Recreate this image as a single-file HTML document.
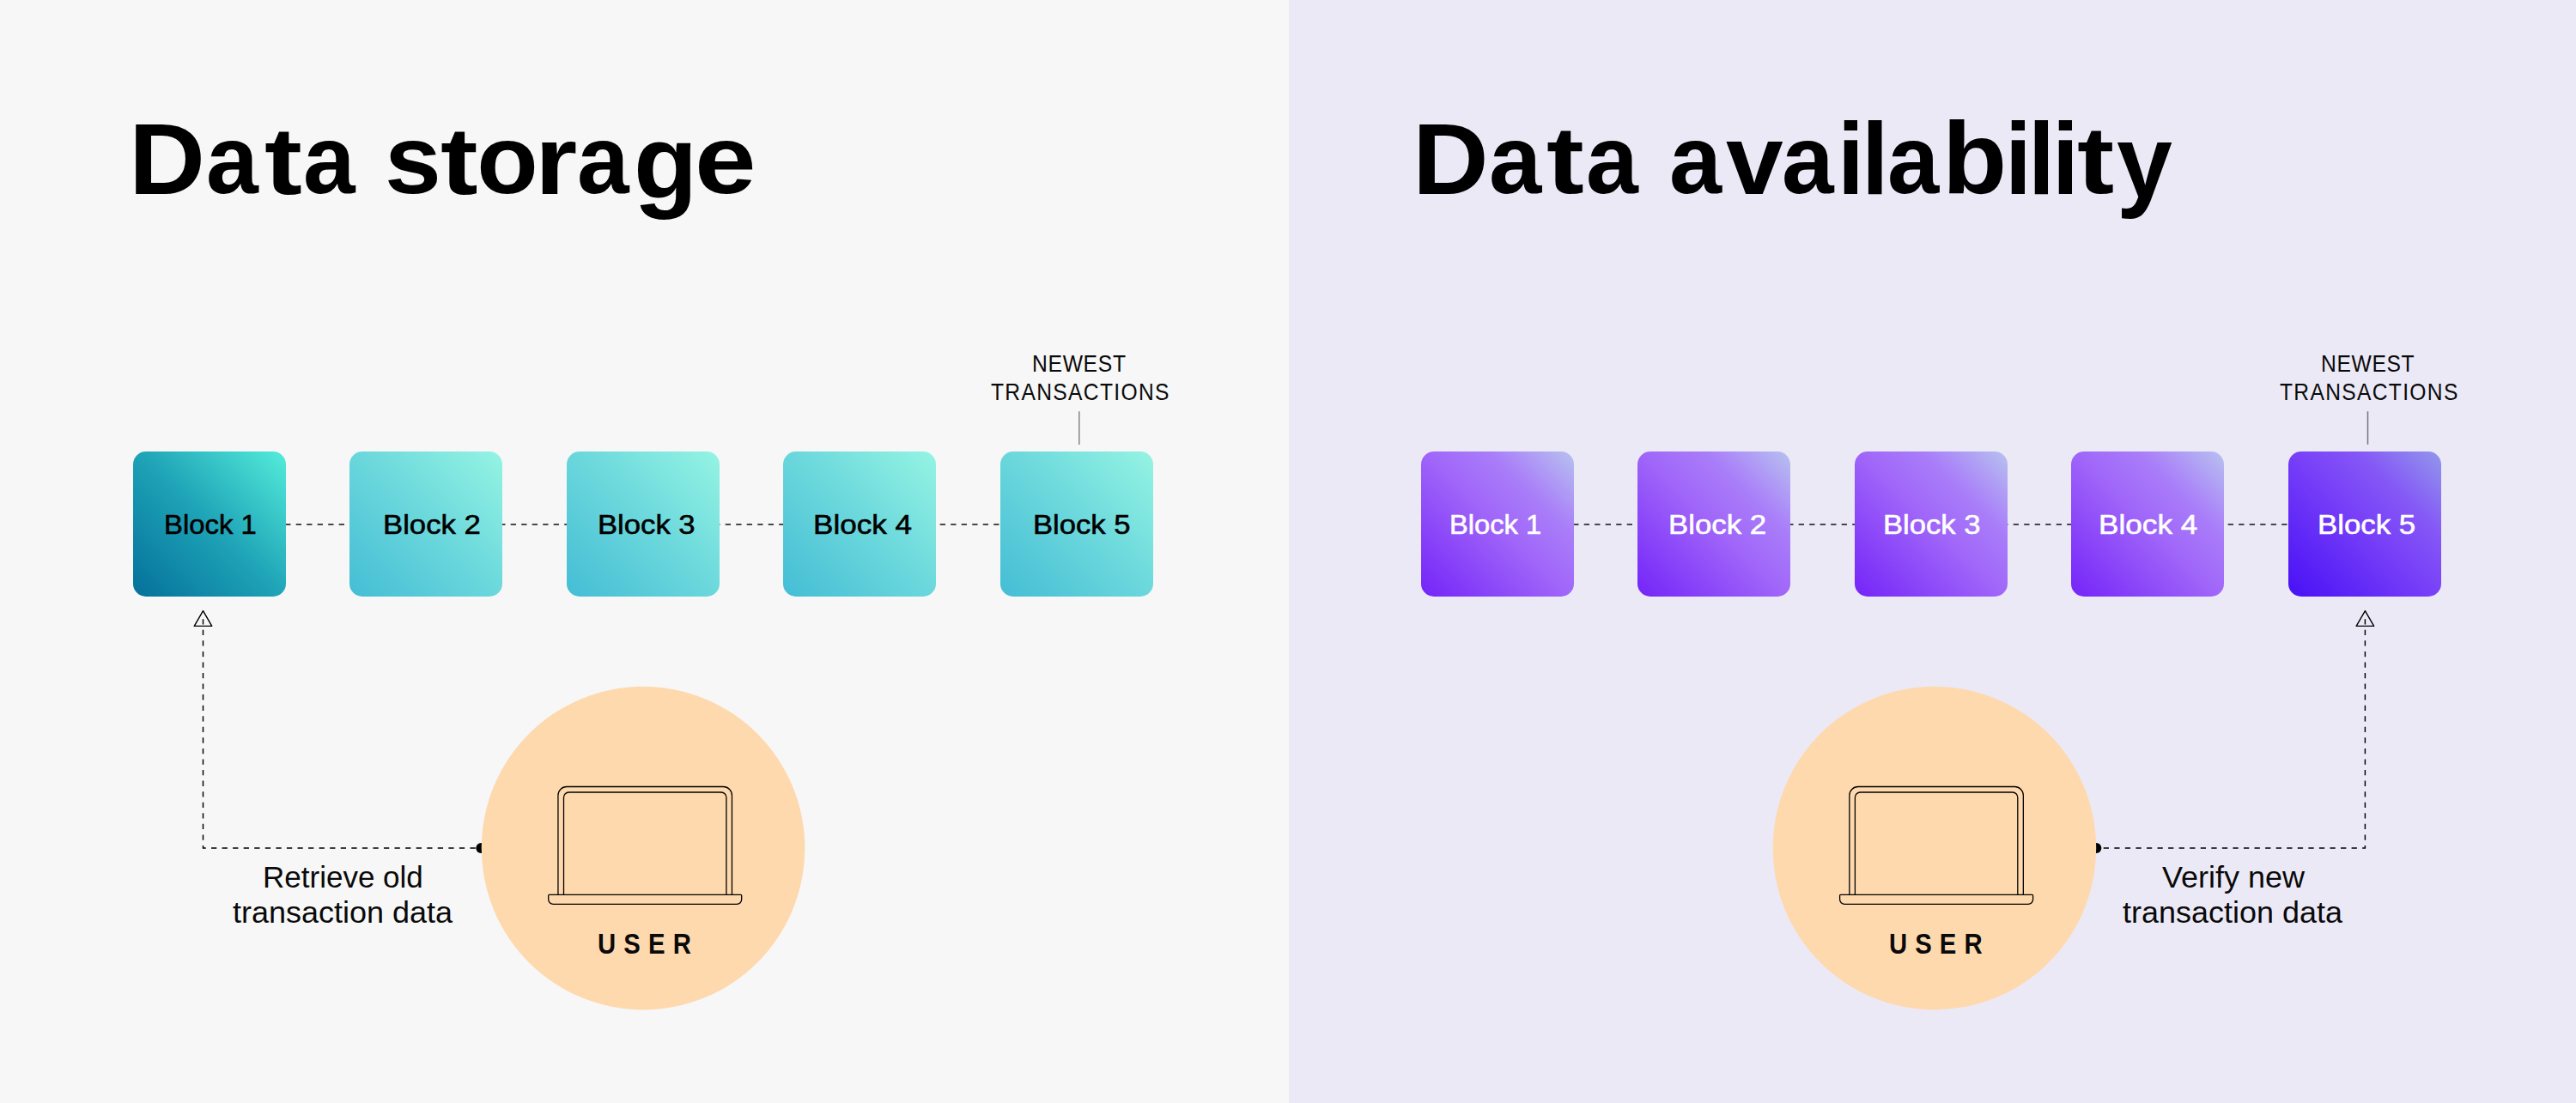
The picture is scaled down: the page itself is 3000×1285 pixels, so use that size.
<!DOCTYPE html>
<html><head><meta charset="utf-8"><style>
html,body{margin:0;padding:0;width:3000px;height:1285px;overflow:hidden;background:#f7f7f7}
.p{position:absolute;top:0;height:1285px}
.b{position:absolute;top:525.5px;width:178.0px;height:169.5px;border-radius:15px}
.s{position:absolute;left:0;top:0}
.t{position:absolute;font-family:"Liberation Sans",sans-serif;line-height:1;white-space:nowrap;transform-origin:0 0}
.L{position:absolute;font-family:"Liberation Sans",sans-serif;font-weight:700;color:#000;line-height:1;white-space:nowrap;transform-origin:0 0}
</style></head><body>
<div class="p" style="left:0;width:1501px;background:#f7f7f7"></div>
<div class="p" style="left:1501px;width:1499px;background:#ece9f7"></div>
<svg class="s" width="3000" height="1285" viewBox="0 0 3000 1285"><line x1="157.20" y1="611" x2="1342.00" y2="611" stroke="#111" stroke-width="1.55" stroke-dasharray="6.3 6.2"/>
<line x1="1657.20" y1="611" x2="2842.00" y2="611" stroke="#111" stroke-width="1.55" stroke-dasharray="6.3 6.2"/>
<line x1="1256.8" y1="479.3" x2="1256.8" y2="517.9" stroke="#86868b" stroke-width="1.5"/>
<line x1="2757.5" y1="479.3" x2="2757.5" y2="517.9" stroke="#747479" stroke-width="1.5"/>
<path d="M236.5 721.2 V988 H560.2" fill="none" stroke="#000" stroke-width="1.45" stroke-dasharray="6.28 6.28"/>
<path d="M236.5 711.7 L246.75 729.4 L226.25 729.4 Z" fill="none" stroke="#000" stroke-width="1.4" stroke-linejoin="round"/>
<circle cx="560.2" cy="988" r="5.9" fill="#000"/>
<path d="M2754.4 721.2 V988 H2441.4" fill="none" stroke="#000" stroke-width="1.45" stroke-dasharray="6.28 6.28"/>
<path d="M2754.4 711.7 L2764.65 729.4 L2744.15 729.4 Z" fill="none" stroke="#000" stroke-width="1.4" stroke-linejoin="round"/>
<circle cx="2441.4" cy="988" r="5.9" fill="#000"/>
<circle cx="749.05" cy="988.1" r="188.3" fill="#fed9ae"/>
<circle cx="2252.9" cy="988.1" r="188.3" fill="#fed9ae"/>
<g fill="none" stroke="#000" stroke-width="1.3"><path d="M649.95 1042.3 V926.5 A10 10 0 0 1 659.95 916.5 H842.45 A10 10 0 0 1 852.45 926.5 V1042.3"/><path d="M656.50 1042.3 V929.0 A6 6 0 0 1 662.50 923.0 H839.90 A6 6 0 0 1 845.90 929.0 V1042.3"/><path d="M639.70 1042.3 H862.70 Q863.70 1042.3 863.70 1043.3 V1047.8 A5.5 5.5 0 0 1 858.20 1053.3 H644.20 A5.5 5.5 0 0 1 638.70 1047.8 V1043.3 Q638.70 1042.3 639.70 1042.3 Z"/></g>
<g fill="none" stroke="#000" stroke-width="1.3"><path d="M2153.85 1042.3 V926.5 A10 10 0 0 1 2163.85 916.5 H2346.35 A10 10 0 0 1 2356.35 926.5 V1042.3"/><path d="M2160.40 1042.3 V929.0 A6 6 0 0 1 2166.40 923.0 H2343.80 A6 6 0 0 1 2349.80 929.0 V1042.3"/><path d="M2143.60 1042.3 H2366.60 Q2367.60 1042.3 2367.60 1043.3 V1047.8 A5.5 5.5 0 0 1 2362.10 1053.3 H2148.10 A5.5 5.5 0 0 1 2142.60 1047.8 V1043.3 Q2142.60 1042.3 2143.60 1042.3 Z"/></g></svg>
<div class="b" style="left:155.0px;background:linear-gradient(45deg,#05709a 0%,#1ea3b7 50%,#54ecda 100%)"></div>
<div class="b" style="left:407.4px;background:linear-gradient(45deg,#44bdd5 0%,#6ad7dc 50%,#95f4e3 100%)"></div>
<div class="b" style="left:659.8px;background:linear-gradient(45deg,#44bdd5 0%,#6ad7dc 50%,#95f4e3 100%)"></div>
<div class="b" style="left:912.2px;background:linear-gradient(45deg,#44bdd5 0%,#6ad7dc 50%,#95f4e3 100%)"></div>
<div class="b" style="left:1164.6px;background:linear-gradient(45deg,#44bdd5 0%,#6ad7dc 50%,#95f4e3 100%)"></div>
<div class="b" style="left:1655.0px;background:linear-gradient(45deg,#7424f8 0%,#a066f9 50%,#a97ef9 72%,#b7c2f0 100%)"></div>
<div class="b" style="left:1907.4px;background:linear-gradient(45deg,#7424f8 0%,#a066f9 50%,#a97ef9 72%,#b7c2f0 100%)"></div>
<div class="b" style="left:2159.8px;background:linear-gradient(45deg,#7424f8 0%,#a066f9 50%,#a97ef9 72%,#b7c2f0 100%)"></div>
<div class="b" style="left:2412.2px;background:linear-gradient(45deg,#7424f8 0%,#a066f9 50%,#a97ef9 72%,#b7c2f0 100%)"></div>
<div class="b" style="left:2664.6px;background:linear-gradient(45deg,#4810f5 0%,#7840f8 50%,#8558f6 72%,#9298ec 100%)"></div>
<div class="t" style="left:191.04px;top:595.96px;font-size:31.11px;font-weight:400;color:#000;transform:scaleX(1.0570);-webkit-text-stroke:0.55px currentColor;">Block 1</div>
<div class="t" style="left:446.28px;top:595.96px;font-size:31.11px;font-weight:400;color:#000;transform:scaleX(1.1160);-webkit-text-stroke:0.55px currentColor;">Block 2</div>
<div class="t" style="left:696.29px;top:595.96px;font-size:31.11px;font-weight:400;color:#000;transform:scaleX(1.1140);-webkit-text-stroke:0.55px currentColor;">Block 3</div>
<div class="t" style="left:947.37px;top:595.96px;font-size:31.11px;font-weight:400;color:#000;transform:scaleX(1.1287);-webkit-text-stroke:0.55px currentColor;">Block 4</div>
<div class="t" style="left:1202.79px;top:595.96px;font-size:31.11px;font-weight:400;color:#000;transform:scaleX(1.1129);-webkit-text-stroke:0.55px currentColor;">Block 5</div>
<div class="t" style="left:1687.65px;top:595.96px;font-size:31.11px;font-weight:400;color:#fff;transform:scaleX(1.0510);-webkit-text-stroke:0.55px currentColor;">Block 1</div>
<div class="t" style="left:1942.58px;top:595.96px;font-size:31.11px;font-weight:400;color:#fff;transform:scaleX(1.1180);-webkit-text-stroke:0.55px currentColor;">Block 2</div>
<div class="t" style="left:2192.79px;top:595.96px;font-size:31.11px;font-weight:400;color:#fff;transform:scaleX(1.1120);-webkit-text-stroke:0.55px currentColor;">Block 3</div>
<div class="t" style="left:2443.67px;top:595.96px;font-size:31.11px;font-weight:400;color:#fff;transform:scaleX(1.1307);-webkit-text-stroke:0.55px currentColor;">Block 4</div>
<div class="t" style="left:2698.88px;top:595.96px;font-size:31.11px;font-weight:400;color:#fff;transform:scaleX(1.1198);-webkit-text-stroke:0.55px currentColor;">Block 5</div>
<div class="t" style="left:1202.22px;top:409.95px;font-size:28.05px;font-weight:400;color:#0a0a0a;letter-spacing:0.768px;transform:scaleX(0.88);">NEWEST</div>
<div class="t" style="left:1153.80px;top:442.66px;font-size:27.33px;font-weight:400;color:#0a0a0a;letter-spacing:1.495px;transform:scaleX(0.9);">TRANSACTIONS</div>
<div class="t" style="left:2703.12px;top:409.95px;font-size:28.05px;font-weight:400;color:#0a0a0a;letter-spacing:0.700px;transform:scaleX(0.88);">NEWEST</div>
<div class="t" style="left:2654.70px;top:442.66px;font-size:27.33px;font-weight:400;color:#0a0a0a;letter-spacing:1.475px;transform:scaleX(0.9);">TRANSACTIONS</div>
<div class="t" style="left:306.45px;top:1004.80px;font-size:35.9px;font-weight:400;color:#0a0a0a;transform:scaleX(0.9755);">Retrieve old</div>
<div class="t" style="left:271.20px;top:1046.30px;font-size:35.9px;font-weight:400;color:#0a0a0a;transform:scaleX(1.0027);">transaction data</div>
<div class="t" style="left:2517.60px;top:1004.80px;font-size:35.9px;font-weight:400;color:#0a0a0a;transform:scaleX(1.0030);">Verify new</div>
<div class="t" style="left:2472.20px;top:1046.30px;font-size:35.9px;font-weight:400;color:#0a0a0a;transform:scaleX(1.0023);">transaction data</div>
<div class="t" style="left:695.92px;top:1082.71px;font-size:33.29px;font-weight:700;color:#0a0a0a;letter-spacing:10.462px;transform:scaleX(0.88);">USER</div>
<div class="t" style="left:2200.32px;top:1082.71px;font-size:33.29px;font-weight:700;color:#0a0a0a;letter-spacing:10.311px;transform:scaleX(0.88);">USER</div>
<div class="L" style="left:150.48px;top:127.51px;font-size:117.0px;transform:scale(1.0528,0.9938)">D</div>
<div class="L" style="left:239.80px;top:130.35px;font-size:117.0px;transform:scale(0.9349,0.9625)">a</div>
<div class="L" style="left:307.57px;top:131.02px;font-size:117.0px;transform:scale(1.1270,0.9558)">t</div>
<div class="L" style="left:352.61px;top:130.35px;font-size:117.0px;transform:scale(0.9302,0.9625)">a</div>
<div class="L" style="left:448.35px;top:130.35px;font-size:117.0px;transform:scale(1.0125,0.9625)">s</div>
<div class="L" style="left:512.78px;top:131.02px;font-size:117.0px;transform:scale(1.1189,0.9558)">t</div>
<div class="L" style="left:555.30px;top:130.35px;font-size:117.0px;transform:scale(1.0000,0.9625)">o</div>
<div class="L" style="left:623.06px;top:130.14px;font-size:117.0px;transform:scale(1.0806,0.9683)">r</div>
<div class="L" style="left:672.11px;top:130.35px;font-size:117.0px;transform:scale(0.9302,0.9625)">a</div>
<div class="L" style="left:737.81px;top:127.90px;font-size:117.0px;transform:scale(1.0390,1.0307)">g</div>
<div class="L" style="left:808.70px;top:130.35px;font-size:117.0px;transform:scale(1.1000,0.9625)">e</div>
<div class="L" style="left:1644.51px;top:127.24px;font-size:117.0px;transform:scale(1.0486,0.9975)">D</div>
<div class="L" style="left:1733.58px;top:130.35px;font-size:117.0px;transform:scale(0.9413,0.9625)">a</div>
<div class="L" style="left:1801.38px;top:131.28px;font-size:117.0px;transform:scale(1.1243,0.9532)">t</div>
<div class="L" style="left:1846.50px;top:130.35px;font-size:117.0px;transform:scale(0.9349,0.9625)">a</div>
<div class="L" style="left:1943.79px;top:130.35px;font-size:117.0px;transform:scale(0.9381,0.9625)">a</div>
<div class="L" style="left:2010.07px;top:129.24px;font-size:117.0px;transform:scale(1.0254,0.9774)">v</div>
<div class="L" style="left:2074.50px;top:130.35px;font-size:117.0px;transform:scale(0.9317,0.9625)">a</div>
<div class="L" style="left:2140.40px;top:126.07px;font-size:117.0px;transform:scale(0.9500,1.0094)">i</div>
<div class="L" style="left:2167.75px;top:125.02px;font-size:117.0px;transform:scale(0.9688,1.0200)">l</div>
<div class="L" style="left:2197.92px;top:130.35px;font-size:117.0px;transform:scale(0.9254,0.9625)">a</div>
<div class="L" style="left:2262.48px;top:125.09px;font-size:117.0px;transform:scale(1.0525,1.0151)">b</div>
<div class="L" style="left:2335.10px;top:126.07px;font-size:117.0px;transform:scale(0.9500,1.0094)">i</div>
<div class="L" style="left:2362.30px;top:125.02px;font-size:117.0px;transform:scale(0.9500,1.0200)">l</div>
<div class="L" style="left:2390.10px;top:126.07px;font-size:117.0px;transform:scale(0.9500,1.0094)">i</div>
<div class="L" style="left:2419.39px;top:131.41px;font-size:117.0px;transform:scale(1.1081,0.9519)">t</div>
<div class="L" style="left:2465.20px;top:127.07px;font-size:117.0px;transform:scale(0.9968,1.0360)">y</div>
</body></html>
